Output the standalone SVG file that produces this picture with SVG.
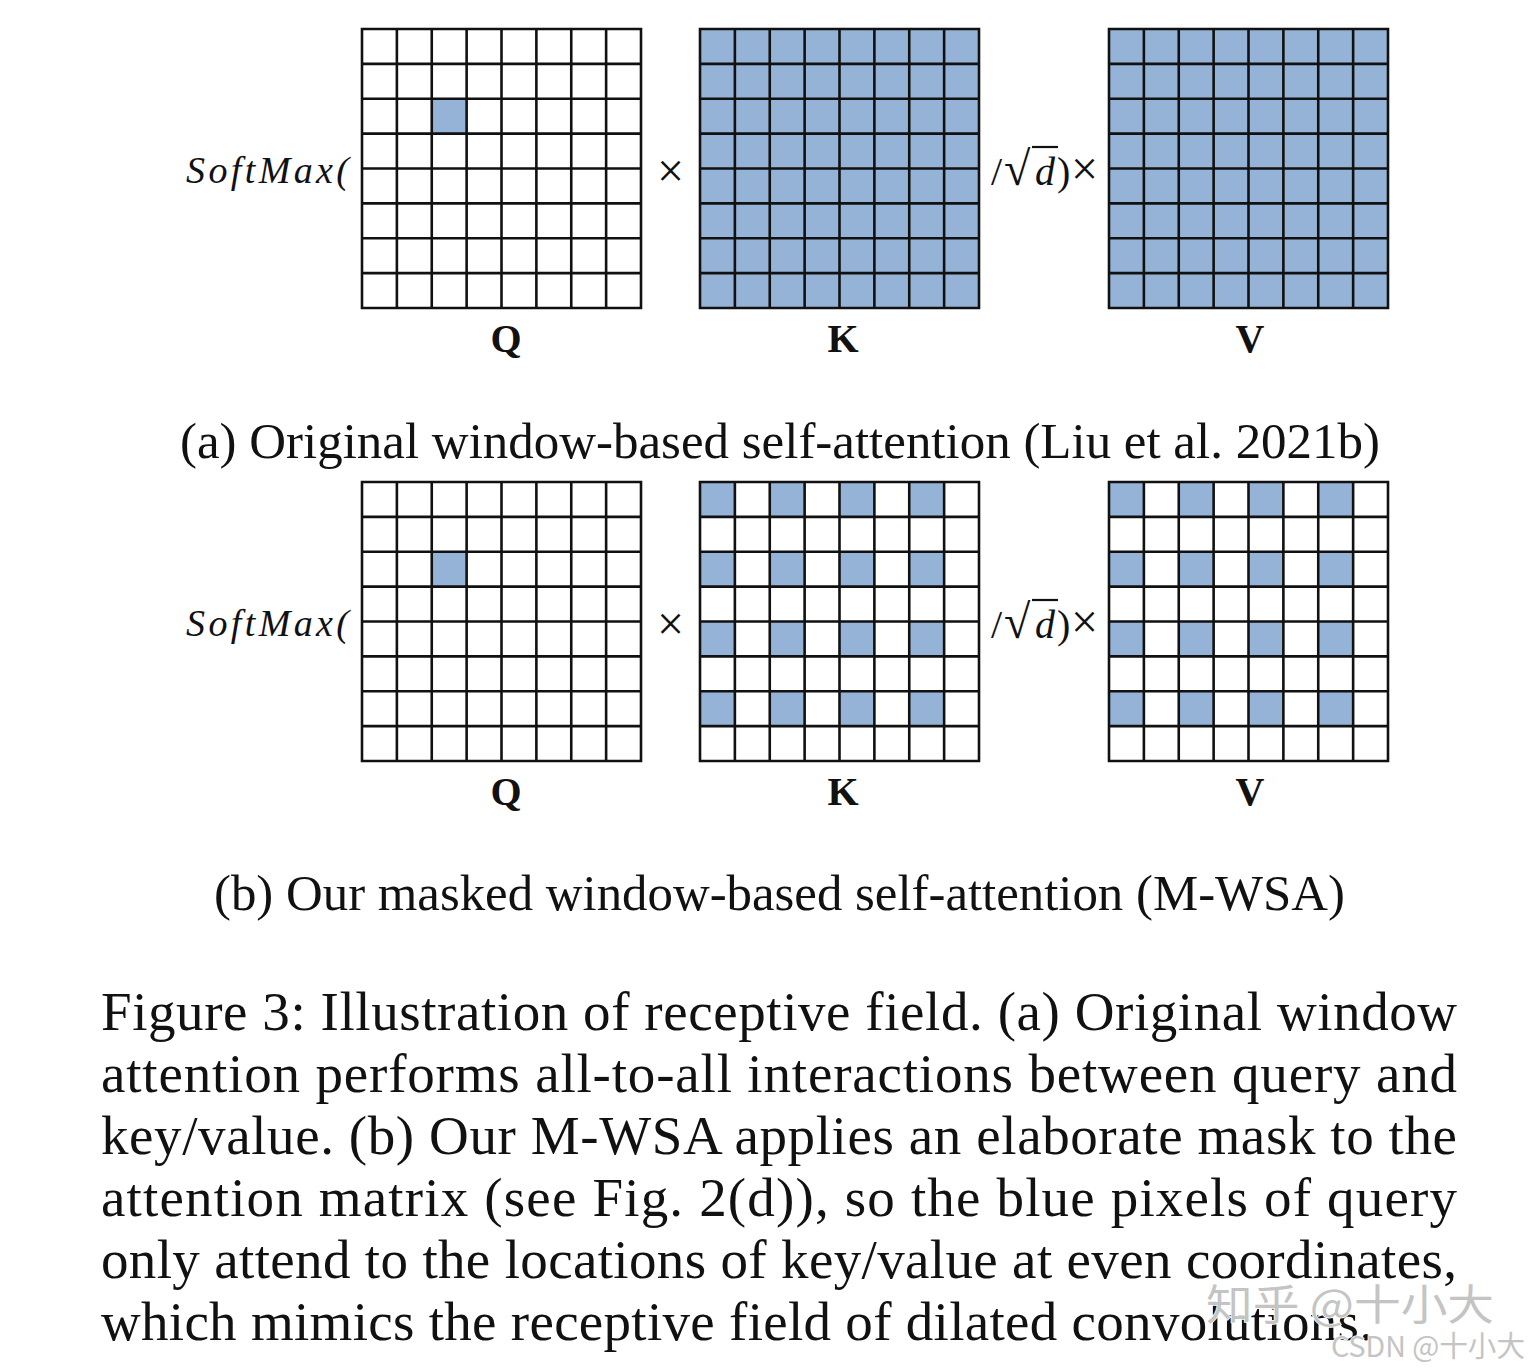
<svg xmlns="http://www.w3.org/2000/svg" xmlns:xlink="http://www.w3.org/1999/xlink" width="1533" height="1371" viewBox="0 0 1533 1371">
<style>
.gl{fill:none;stroke:#111;stroke-width:2.6}
.bl{fill:#95B3D7}
.math{font-family:"Liberation Serif","DejaVu Serif",serif;font-style:italic;font-size:38px;fill:#111}
.op{font-family:"Liberation Serif","DejaVu Serif",serif;font-size:40px;fill:#111}
.x{font-size:48px}
.lab{font-family:"Liberation Serif","DejaVu Serif",serif;font-weight:bold;font-size:40px;fill:#111;text-anchor:middle}
.cap{font-family:"Liberation Serif","DejaVu Serif",serif;font-size:51px;fill:#111}
.par{font-family:"Liberation Serif","DejaVu Serif",serif;font-size:55px;fill:#111}
.wm{font-family:"Noto Sans CJK SC","Noto Sans",sans-serif;fill:#c4c4c4;stroke:#fff;stroke-width:1.5;paint-order:stroke}
</style>
<defs>
<path id="grid" class="gl" d="M0 0H279V279H0Z M0 34.875H279 M0 69.75H279 M0 104.625H279 M0 139.5H279 M0 174.375H279 M0 209.25H279 M0 244.125H279 M34.875 0V279 M69.75 0V279 M104.625 0V279 M139.5 0V279 M174.375 0V279 M209.25 0V279 M244.125 0V279"/>
<rect id="full" class="bl" x="0" y="0" width="279" height="279"/>
<rect id="qcell" class="bl" x="69.75" y="69.75" width="34.875" height="34.875"/>
<g id="dil" class="bl">
<rect x="0" y="0" width="34.875" height="34.875"/><rect x="69.75" y="0" width="34.875" height="34.875"/><rect x="139.5" y="0" width="34.875" height="34.875"/><rect x="209.25" y="0" width="34.875" height="34.875"/>
<rect x="0" y="69.75" width="34.875" height="34.875"/><rect x="69.75" y="69.75" width="34.875" height="34.875"/><rect x="139.5" y="69.75" width="34.875" height="34.875"/><rect x="209.25" y="69.75" width="34.875" height="34.875"/>
<rect x="0" y="139.5" width="34.875" height="34.875"/><rect x="69.75" y="139.5" width="34.875" height="34.875"/><rect x="139.5" y="139.5" width="34.875" height="34.875"/><rect x="209.25" y="139.5" width="34.875" height="34.875"/>
<rect x="0" y="209.25" width="34.875" height="34.875"/><rect x="69.75" y="209.25" width="34.875" height="34.875"/><rect x="139.5" y="209.25" width="34.875" height="34.875"/><rect x="209.25" y="209.25" width="34.875" height="34.875"/>
</g>
</defs>
<rect width="1533" height="1371" fill="#fff"/>

<!-- (a) -->
<g id="a-softmax"><text class="math" x="186" y="183" textLength="163" lengthAdjust="spacing">SoftMax(</text></g>
<g id="a-Q" transform="translate(362,29)"><rect x="0" y="0" width="279" height="279" fill="#fff"/><use xlink:href="#qcell"/><use xlink:href="#grid"/></g>
<g id="a-times1"><text class="op x" x="657" y="187">×</text></g>
<g id="a-K" transform="translate(700,29)"><use xlink:href="#full"/><use xlink:href="#grid"/></g>
<g id="a-scale"><text class="op" x="991" y="185">/<tspan x="1004" font-size="48">√</tspan><tspan x="1035" font-style="italic" font-size="40">d</tspan><tspan x="1057">)</tspan><tspan x="1071" class="x">×</tspan></text><path d="M1032 147H1058" stroke="#111" stroke-width="2.2"/></g>
<g id="a-V" transform="translate(1109,29)"><use xlink:href="#full"/><use xlink:href="#grid"/></g>
<g id="a-labels"><text class="lab" x="506" y="352">Q</text><text class="lab" x="843" y="352">K</text><text class="lab" x="1250" y="352">V</text></g>
<g id="a-caption"><text class="cap" x="180" y="458" textLength="1200" lengthAdjust="spacingAndGlyphs">(a) Original window-based self-attention (Liu et al. 2021b)</text></g>

<!-- (b) -->
<g id="b-softmax"><text class="math" x="186" y="636" textLength="163" lengthAdjust="spacing">SoftMax(</text></g>
<g id="b-Q" transform="translate(362,482)"><rect x="0" y="0" width="279" height="279" fill="#fff"/><use xlink:href="#qcell"/><use xlink:href="#grid"/></g>
<g id="b-times1"><text class="op x" x="657" y="640">×</text></g>
<g id="b-K" transform="translate(700,482)"><use xlink:href="#dil"/><use xlink:href="#grid"/></g>
<g id="b-scale"><text class="op" x="991" y="638">/<tspan x="1004" font-size="48">√</tspan><tspan x="1035" font-style="italic" font-size="40">d</tspan><tspan x="1057">)</tspan><tspan x="1071" class="x">×</tspan></text><path d="M1032 600H1058" stroke="#111" stroke-width="2.2"/></g>
<g id="b-V" transform="translate(1109,482)"><use xlink:href="#dil"/><use xlink:href="#grid"/></g>
<g id="b-labels"><text class="lab" x="506" y="805">Q</text><text class="lab" x="843" y="805">K</text><text class="lab" x="1250" y="805">V</text></g>
<g id="b-caption"><text class="cap" x="214" y="910" textLength="1131" lengthAdjust="spacingAndGlyphs">(b) Our masked window-based self-attention (M-WSA)</text></g>

<!-- figure caption -->
<g id="figure-caption" class="par">
<text x="101" y="1030" textLength="1356" lengthAdjust="spacing">Figure 3: Illustration of receptive field. (a) Original window</text>
<text x="101" y="1092" textLength="1356" lengthAdjust="spacing">attention performs all-to-all interactions between query and</text>
<text x="101" y="1154" textLength="1356" lengthAdjust="spacing">key/value. (b) Our M-WSA applies an elaborate mask to the</text>
<text x="101" y="1216" textLength="1356" lengthAdjust="spacing">attention matrix (see Fig. 2(d)), so the blue pixels of query</text>
<text x="101" y="1278" textLength="1356" lengthAdjust="spacing">only attend to the locations of key/value at even coordinates,</text>
<text x="101" y="1340" textLength="1272" lengthAdjust="spacing">which mimics the receptive field of dilated convolutions.</text>
</g>

<!-- watermarks -->
<g id="watermarks">
<text class="wm" x="1206" y="1320" font-size="42" textLength="288" lengthAdjust="spacingAndGlyphs">知乎 @十小大</text>
<text class="wm" x="1331" y="1357" font-size="29" textLength="194" lengthAdjust="spacingAndGlyphs" fill="#bdbdbd">CSDN @十小大</text>
</g>
</svg>
